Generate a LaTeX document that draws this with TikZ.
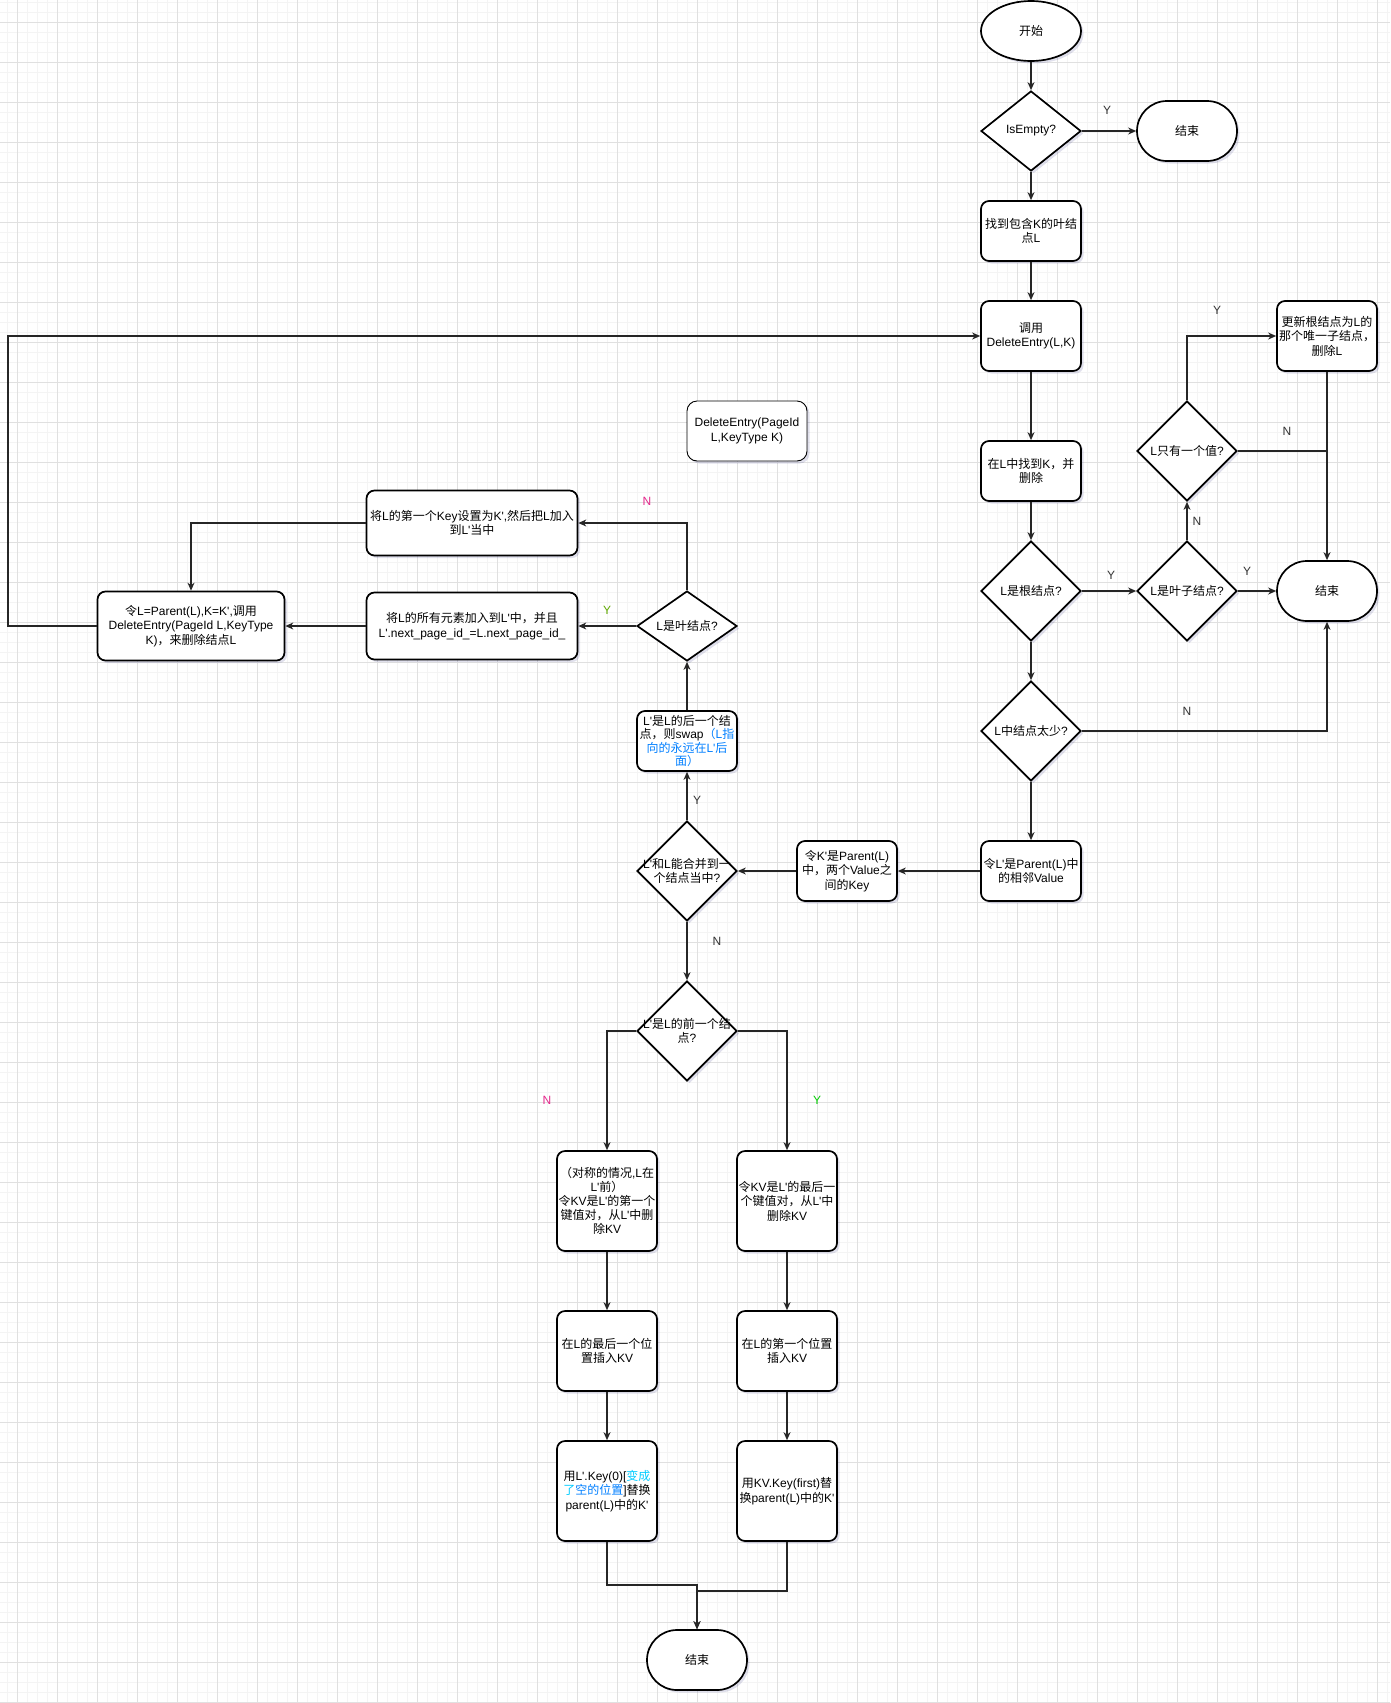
\documentclass[tikz,border=0pt]{standalone}
\usepackage{fontspec}
\newfontfamily\latinfont{Liberation Sans}
\newfontfamily\cjkfont{Noto Sans CJK SC}
%% switch to the CJK family for CJK characters and full-width punctuation
\XeTeXinterchartokenstate=1
\newXeTeXintercharclass\cjkclass
\count255="2E80
\loop
  \XeTeXcharclass\count255=\cjkclass
  \ifnum\count255<"9FFF \advance\count255 by 1 \repeat
\count255="FF00
\loop
  \XeTeXcharclass\count255=\cjkclass
  \ifnum\count255<"FFEF \advance\count255 by 1 \repeat
\XeTeXinterchartoks 0 \cjkclass = {\cjkfont}
\XeTeXinterchartoks 4095 \cjkclass = {\cjkfont}
\XeTeXinterchartoks \cjkclass 0 = {\latinfont}
\XeTeXinterchartoks \cjkclass 4095 = {\latinfont}
\usetikzlibrary{shapes.geometric,shapes.misc,arrows.meta,shadows}
\definecolor{gridminor}{HTML}{F4F4F4}
\definecolor{gridmajor}{HTML}{E0E0E0}
\definecolor{noteblue}{RGB}{0,127,255}
\definecolor{notecyan}{RGB}{0,204,255}
\definecolor{nopink}{RGB}{228,40,140}
\definecolor{yesolive}{RGB}{96,168,0}
\definecolor{yesgreen}{RGB}{0,204,0}
\begin{document}
\begin{tikzpicture}
[x=1pt,y=-1pt,font=\latinfont\fontsize{12}{14.5}\selectfont,
  shadowdecorate/.style={drop shadow={shadow xshift=2.5pt,shadow yshift=-2.5pt,opacity=0.12,fill=black!60!blue}},
  boxdecorate/.style={shape=rectangle,rounded corners=8pt,draw,line width=1.7pt,fill=white,
    minimum width=100pt,minimum height=60pt,inner sep=0pt,align=center,shadowdecorate},
  sigdecorate/.style={shape=rectangle,rounded corners=10pt,draw,line width=0.9pt,fill=white,
    minimum width=120pt,minimum height=60pt,inner sep=0pt,align=center,shadowdecorate},
  decidedecorate/.style={shape=diamond,draw,line width=1.7pt,fill=white,
    minimum width=100pt,minimum height=100pt,inner sep=0pt,shadowdecorate},
  termdecorate/.style={shape=rounded rectangle,draw,line width=1.7pt,fill=white,
    minimum width=100pt,minimum height=60pt,inner sep=0pt,shadowdecorate},
  startdecorate/.style={shape=ellipse,draw,line width=1.7pt,fill=white,
    minimum width=100pt,minimum height=60pt,inner sep=0pt,shadowdecorate},
  linedecorate/.style={line width=1.1pt,draw=black!85,-{Stealth[length=8pt,width=7pt,inset=2.5pt]}},
  lbldecorate/.style={inner sep=1pt,font=\latinfont\fontsize{12}{14}\selectfont}]
%% background and grid
\fill[white] (0,0) rectangle (1390,1703);
\useasboundingbox (0,0) rectangle (1390,1703);
\foreach \x in {7,17,...,1387} \draw[gridminor,line width=0.6pt] (\x,0) -- (\x,1703);
\foreach \y in {2,12,...,1702} \draw[gridminor,line width=0.6pt] (0,\y) -- (1390,\y);
\foreach \x in {17,57,...,1377} \draw[gridmajor,line width=0.8pt] (\x,0) -- (\x,1703);
\foreach \y in {22,62,...,1702} \draw[gridmajor,line width=0.8pt] (0,\y) -- (1390,\y);
%% nodes: right column
\node (start) at (1031,31) [startdecorate] {开始};
\node (isempty) at (1031,131) [decidedecorate,minimum height=80pt,label={center:IsEmpty?}] {};
\node (endtop) at (1187,131) [termdecorate] {结束};
\node (findleaf) at (1031,231) [boxdecorate] {找到包含K的叶结\\点L};
\node (callde) at (1031,336) [boxdecorate,minimum height=70pt] {调用\\DeleteEntry(L,K)};
\node (delk) at (1031,471) [boxdecorate] {在L中找到K，并\\删除};
\node (isroot) at (1031,591) [decidedecorate,label={center:L是根结点?}] {};
\node (isleaf) at (1187,591) [decidedecorate,label={center:L是叶子结点?}] {};
\node (onlyone) at (1187,451) [decidedecorate,label={center:L只有一个值?}] {};
\node (newroot) at (1327,336) [boxdecorate,minimum height=70pt] {更新根结点为L的\\那个唯一子结点，\\删除L};
\node (endright) at (1327,591) [termdecorate] {结束};
\node (toofew) at (1031,731) [decidedecorate,label={center:L中结点太少?}] {};
\node (sibling) at (1031,871) [boxdecorate] {令L'是Parent(L)中\\的相邻Value};
%% nodes: middle and left
\node (keyk) at (847,871) [boxdecorate] {令K'是Parent(L)\\中，两个Value之\\间的Key};
\node (canmerge) at (687,871) [decidedecorate,label={[align=center]center:{L'和L能合并到一\\个结点当中?}}] {};
\node (swap) at (687,741) [boxdecorate,font=\latinfont\fontsize{12}{13.5}\selectfont] {L'是L的后一个结\\点，则swap\textcolor{noteblue}{（L指}\\\textcolor{noteblue}{向的永远在L'后}\\\textcolor{noteblue}{面）}};
\node (isleafnode) at (687,626) [decidedecorate,minimum height=70pt,label={center:L是叶结点?}] {};
\node (setkey) at (472,523) [boxdecorate,minimum width=211pt,minimum height=65pt] {将L的第一个Key设置为K',然后把L加入\\到L'当中};
\node (merge) at (472,626) [boxdecorate,minimum width=211pt,minimum height=67pt] {将L的所有元素加入到L'中，并且\\L'.next\_page\_id\_=L.next\_page\_id\_};
\node (recurse) at (191,626) [boxdecorate,minimum width=187pt,minimum height=69pt] {令L=Parent(L),K=K',调用\\DeleteEntry(PageId L,KeyType\\K)，来删除结点L};
\node (signature) at (747,431) [sigdecorate] {DeleteEntry(PageId\\L,KeyType K)};
%% nodes: bottom
\node (isprev) at (687,1031) [decidedecorate,label={[align=center]center:{L'是L的前一个结\\点?}}] {};
\node (leftdel) at (607,1201) [boxdecorate,minimum height=100pt,font=\latinfont\fontsize{12}{14}\selectfont] {（对称的情况,L在\\L'前）\\令KV是L'的第一个\\键值对，从L'中删\\除KV};
\node (rightdel) at (787,1201) [boxdecorate,minimum height=100pt] {令KV是L'的最后一\\个键值对，从L'中\\删除KV};
\node (leftins) at (607,1351) [boxdecorate,minimum height=80pt] {在L的最后一个位\\置插入KV};
\node (rightins) at (787,1351) [boxdecorate,minimum height=80pt] {在L的第一个位置\\插入KV};
\node (leftrep) at (607,1491) [boxdecorate,minimum height=100pt] {用L'.Key(0)[\textcolor{notecyan}{变成}\\\textcolor{notecyan}{了}\textcolor{noteblue}{空的位置}]替换\\parent(L)中的K'};
\node (rightrep) at (787,1491) [boxdecorate,minimum height=100pt] {用KV.Key(first)替\\换parent(L)中的K'};
\node (endbottom) at (697,1660) [termdecorate] {结束};
%% straight edges
\path
\foreach \startnode/\endnode in {start/isempty, isempty/findleaf, findleaf/callde,
  callde/delk, delk/isroot, isroot/toofew, toofew/sibling, sibling/keyk,
  keyk/canmerge, isempty/endtop, isroot/isleaf, isleaf/endright, isleaf/onlyone,
  newroot/endright, canmerge/swap, swap/isleafnode, isleafnode/merge,
  merge/recurse, canmerge/isprev, leftdel/leftins, leftins/leftrep,
  rightdel/rightins, rightins/rightrep} {
  (\startnode) edge[linedecorate] (\endnode)
};
%% elbow edges
\coordinate (loopleft) at (8,626);
\coordinate (leftjoin) at (607,1585);
\coordinate (rightjoin) at (787,1591);
\draw[linedecorate] (onlyone.north) |- (newroot.west);
\draw[linedecorate,-] (onlyone.east) -- (onlyone.east -| newroot.south);
\draw[linedecorate] (toofew.east) -| (endright.south);
\draw[linedecorate] (isleafnode.north) |- (setkey.east);
\draw[linedecorate] (setkey.west) -| (recurse.north);
\draw[linedecorate] (recurse.west) -- (loopleft) |- (callde.west);
\draw[linedecorate] (isprev.west) -| (leftdel.north);
\draw[linedecorate] (isprev.east) -| (rightdel.north);
\draw[linedecorate] (leftrep.south) -- (leftjoin) -| (endbottom.north);
\draw[linedecorate] (rightrep.south) -- (rightjoin) -| (endbottom.north);
%% edge labels
\foreach \lblname/\x/\y/\lbltext/\lblcolor in {yempty/1107/110/Y/black!80,
  ynewroot/1217/310/Y/black!80, nonly/1287/431/N/black!80, nleaf/1197/521/N/black!80,
  yroot/1111/575/Y/black!80, yleaf/1247/571/Y/black!80, nfew/1187/711/N/black!80,
  yswap/697/800/Y/black!80, nmerge/717/941/N/black!80, nsetkey/647/501/N/nopink,
  ymerge/607/610/Y/yesolive, nprev/547/1100/N/nopink, yprev/817/1100/Y/yesgreen}
{
  \node (\lblname) at (\x,\y) [lbldecorate,text=\lblcolor] {\lbltext};
}
\end{tikzpicture}
\end{document}
